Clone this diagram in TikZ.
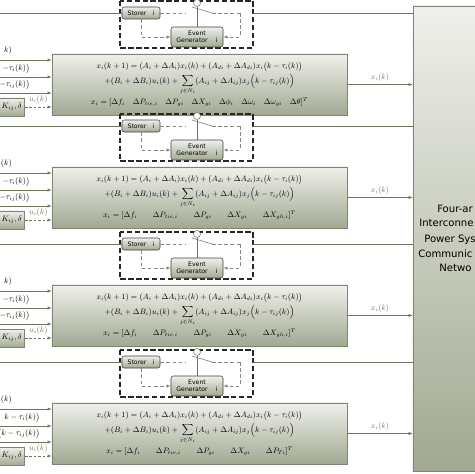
\documentclass[tikz,border=0pt]{standalone}
\usepackage{xcolor}
\usepackage{tikz}
\usetikzlibrary{calc, arrows, positioning}
\usepackage{amsmath}
\usepackage{fontspec}
\setsansfont{DejaVu Sans}
\definecolor{lineclr}{HTML}{6C745F}
\definecolor{edgeclr}{HTML}{7E8574}
\definecolor{boxtop}{HTML}{EFF0EB}
\definecolor{boxbot}{HTML}{A1A991}
\tikzstyle{arrow}    = [lineclr,->,>=latex]
\tikzstyle{sysbox}   = [draw=edgeclr, top color=boxtop, bottom color=boxbot]
\tikzstyle{unitbox}  = [sysbox, draw=black!75, rounded corners=2.5pt, inner sep=1pt,
                        font=\sffamily\fontsize{7}{8}\selectfont]
\tikzstyle{sigline}  = [lineclr!85, dash pattern=on 4pt off 3pt]
\tikzstyle{dashframe}= [black!85, line width=1.3pt, dash pattern=on 6pt off 3pt]

\begin{document}
\begin{tikzpicture}[x=0.04cm, y=-0.04cm, line width=0.6pt]
  \useasboundingbox (0,0) rectangle (474,474);

  % network block
  \node[sysbox, minimum width=3.88cm, minimum height=18.6cm] (net) at (461.5,238.5) {};
  \foreach \t/\x/\y [count=\n] in {Four-ar/437/209, Interconne/419/223, Power Sys/424/240,
                                   Communic/418/254, Netwo/439/268}
    \node[anchor=west, inner sep=0pt, font=\sffamily\fontsize{11.5}{14}\selectfont] (net\n) at (\x,\y) {\t};

  % the four areas
  \foreach \y/\la/\lb/\lc/\lx/\st [count=\i] in {
      54/{k)}/{-\tau_i(k)\big)}/{-\tau_{ij}(k)\big)}/30/{\Delta f_i\quad \Delta P_{tie,i}\quad \Delta P_{gi}\quad \Delta X_{gi}\quad \Delta\phi_i\quad \Delta\omega_i\quad \Delta\omega_{gi}\quad \Delta\theta},
      167/{_i(k)}/{-\tau_i(k)\big)}/{-\tau_{ij}(k)\big)}/30/{\Delta f_i\qquad \Delta P_{tie,i}\qquad \Delta P_{gi}\qquad \Delta X_{gi}\qquad \Delta X_{gh,i}},
      285/{k)}/{-\tau_i(k)\big)}/{-\tau_{ij}(k)\big)}/30/{\Delta f_i\qquad \Delta P_{tie,i}\qquad \Delta P_{gi}\qquad \Delta X_{gi}\qquad \Delta X_{gh,i}},
      403/{_i(k)}/{k-\tau_i(k)\big)}/{\big(k-\tau_{ij}(k)\big)}/40/{\Delta f_i\qquad \Delta P_{tie,i}\qquad \Delta P_{gi}\qquad \Delta X_{gi}\qquad \Delta P_{Ti}}}
  {
    % event-triggered unit
    \draw[dashframe] (120,\y-53) rectangle (253,\y-6);
    \node[unitbox, minimum width=1.52cm, minimum height=0.48cm] (st\i) at (141,\y-41) {Storer\quad i};
    \node[unitbox, minimum width=2.08cm, minimum height=0.8cm, align=center] (eg\i) at (197,\y-17)
      {Event\\Generator\quad\ i};
    \node[circle, draw=lineclr, fill=white, minimum size=0.28cm, inner sep=0pt] (ring\i) at (197,\y-51) {};
    \coordinate (in\i) at (0,\y-41);
    \coordinate (sa\i) at (186,\y-41);
    \coordinate (bl\i) at (192,\y-47);
    \coordinate (sb\i) at (212,\y-41);
    \coordinate (sj\i) at (240,\y-41);
    \coordinate (sw\i) at (253,\y-41);
    \draw[lineclr] (in\i) -- (st\i);
    \draw[sigline] (st\i) -- (sa\i);
    \draw[lineclr] (bl\i) -- (sb\i);
    \draw[sigline] (sb\i) -- (sj\i);
    \draw[lineclr] (sw\i) -- (sw\i -| net.west);
    \draw[lineclr] (ring\i) -- (eg\i);
    \draw[sigline, ->, >=latex] (st\i.south) |- (eg\i.west);
    \draw[sigline, ->, >=latex] (sj\i) |- (eg\i.east);

    % area model
    \node[sysbox, minimum width=11.8cm, minimum height=2.44cm, align=center, font=\small] (eq\i) at (199.5,\y+30.5) {%
      $x_i(k+1)=(A_i+\Delta A_i)x_i(k)+(A_{di}+\Delta A_{di})x_i\big(k-\tau_i(k)\big)$\\[2pt]
      $+(B_i+\Delta B_i)u_i(k)+\displaystyle\sum_{j\in N_i}(A_{ij}+\Delta A_{ij})x_j\Big(k-\tau_{ij}(k)\Big)$\\[3pt]
      $x_i=[\st]^T$};

    % inputs
    \coordinate (ia\i) at (0,\y+6);
    \coordinate (ib\i) at (0,\y+23);
    \coordinate (ic\i) at (0,\y+39);
    \draw[arrow] (ia\i) -- (ia\i -| eq\i.west);
    \draw[arrow] (ib\i) -- (ib\i -| eq\i.west);
    \draw[arrow] (ic\i) -- (ic\i -| eq\i.west);
    \node[anchor=east, inner sep=0pt, font=\small] (la\i) at (12,\y-3) {$\la$};
    \node[anchor=east, inner sep=0pt, font=\small] (lb\i) at (\lx,\y+15) {$\lb$};
    \node[anchor=east, inner sep=0pt, font=\small] (lc\i) at (\lx,\y+31) {$\lc$};
    \node[sysbox, anchor=east, minimum height=0.72cm, text width=1.3cm, align=right, font=\small] (gain\i)
      at (25,\y+53) {$,K_{ij},\delta$};
    \draw[arrow, densely dashed] (gain\i) -- (gain\i -| eq\i.west) node[midway, above, font=\small] {$u_i(k)$};

    % output
    \draw[arrow] (eq\i) -- (eq\i -| net.west) node[midway, above, font=\small] {$x_i(k)$};
  }
\end{tikzpicture}
\end{document}
